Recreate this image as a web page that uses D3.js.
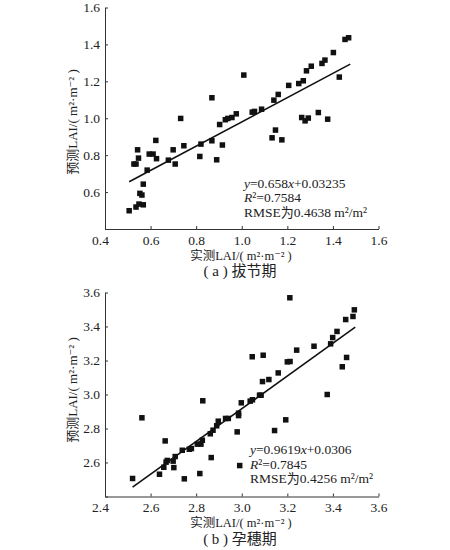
<!DOCTYPE html>
<html><head><meta charset="utf-8">
<script src="https://cdn.jsdelivr.net/npm/d3@7"></script>
<style>
html,body{margin:0;padding:0;background:#fff;}
svg{display:block;}
text{fill:#222;}
</style></head>
<body>
<svg id="c" width="450" height="550"></svg>
<script>
// ---- data (panel a: 拔节期) ----
const xA = [0.506,0.527,0.536,0.543,0.547,0.536,0.549,0.553,0.562,0.568,0.568,0.585,0.594,0.611,0.623,0.626,
  0.678,0.699,0.708,0.732,0.746,0.816,0.821,0.869,0.869,0.890,0.903,0.915,0.928,0.939,0.957,0.976,1.009,
  1.046,1.056,1.087,1.133,1.141,1.148,1.160,1.176,1.206,1.250,1.270,1.263,1.278,1.284,1.292,1.305,1.336,
  1.352,1.365,1.377,1.402,1.428,1.453,1.469];
const yA = [0.499,0.752,0.752,0.829,0.784,0.519,0.535,0.593,0.584,0.643,0.531,0.719,0.806,0.806,0.880,0.781,
  0.773,0.829,0.752,0.999,0.851,0.793,0.860,1.111,0.878,0.775,0.966,0.855,0.992,0.999,1.004,1.024,1.234,
  1.033,1.037,1.049,0.894,1.098,0.936,1.129,0.883,1.178,1.188,1.203,1.004,0.986,1.257,1.001,1.282,1.031,
  1.297,1.315,0.995,1.356,1.223,1.427,1.436];
const fitA = [[0.506,0.656],[1.476,1.293]];
const ticksA = [0.4,0.6,0.8,1.0,1.2,1.4,1.6];
const eqA = ["0.658", "0.03235", "0.7584", "0.4638"];

// ---- data (panel b: 孕穗期) ----
const xB = [2.521,2.562,2.639,2.658,2.664,2.668,2.673,2.699,2.702,2.708,2.739,2.748,2.770,2.779,2.805,2.816,
  2.821,2.827,2.829,2.862,2.866,2.874,2.890,2.897,2.929,2.941,2.980,2.986,2.986,2.991,2.998,3.037,3.047,
  3.046,3.078,3.085,3.091,3.094,3.119,3.144,3.160,3.193,3.200,3.212,3.211,3.241,3.317,3.375,3.390,3.399,
  3.418,3.441,3.456,3.460,3.488,3.494];
const yB = [2.506,2.863,2.531,2.572,2.727,2.602,2.612,2.608,2.570,2.635,2.672,2.504,2.678,2.682,2.708,2.535,
  2.708,2.731,2.963,2.769,2.629,2.790,2.816,2.843,2.859,2.859,2.780,2.876,2.890,2.582,2.951,2.961,2.969,
  3.222,2.996,2.996,3.076,3.231,3.088,2.788,3.127,2.851,3.192,3.194,3.569,3.261,3.284,3.000,3.298,3.335,
  3.371,3.163,3.441,3.218,3.459,3.498];
const fitB = [[2.521,2.455],[3.498,3.396]];
const ticksB = [2.4,2.6,2.8,3.0,3.2,3.4,3.6];
const eqB = ["0.9619", "0.0306", "0.7845", "0.4256"];

const svg = d3.select("#c");
const SERIF = "'Liberation Serif','DejaVu Serif','Noto Sans CJK SC',serif";

function panel(cfg){
  const x = d3.scaleLinear().domain(cfg.dom).range([105,378.5]);
  const y = d3.scaleLinear().domain(cfg.dom).range(cfg.yr);
  const g = svg.append("g");
  const fmt = d3.format(".1f");
  const ax = g.append("g").attr("transform",`translate(0,${cfg.yr[0]})`)
    .call(d3.axisBottom(x).tickValues(cfg.ticks).tickFormat(fmt).tickSizeInner(-3).tickSizeOuter(0).tickPadding(6));
  const ay = g.append("g").attr("transform","translate(105,0)")
    .call(d3.axisLeft(y).tickValues(cfg.ticks).tickFormat(fmt).tickSizeInner(-3).tickSizeOuter(0).tickPadding(5));
  [ax,ay].forEach(a=>{
    a.select(".domain").attr("stroke","#333").attr("stroke-width",1);
    a.selectAll(".tick line").attr("stroke","#333");
    a.selectAll("text").attr("font-family",SERIF).attr("font-size",13.5).attr("fill","#222");
  });
  ax.selectAll(".tick text").filter((d,i)=>i===0).attr("dx",-5);
  ay.selectAll(".tick text").filter((d,i)=>i===0).remove();

  // points
  const s = 5.5;
  g.selectAll("rect.pt").data(cfg.xs.map((v,i)=>[v,cfg.ys[i]])).enter().append("rect")
    .attr("class","pt").attr("x",d=>x(d[0])-s/2).attr("y",d=>y(d[1])-s/2)
    .attr("width",s).attr("height",s).attr("fill","#111");
  // fit line
  g.append("line").attr("x1",x(cfg.fit[0][0])).attr("y1",y(cfg.fit[0][1]))
    .attr("x2",x(cfg.fit[1][0])).attr("y2",y(cfg.fit[1][1]))
    .attr("stroke","#111").attr("stroke-width",1.6);

  // equation text
  const t = g.append("g").attr("font-family",SERIF).attr("font-size",13.5);
  const e1 = t.append("text").attr("x",cfg.eqX).attr("y",cfg.eqY);
  e1.append("tspan").attr("font-style","italic").text("y");
  e1.append("tspan").text("="+cfg.eq[0]);
  e1.append("tspan").attr("font-style","italic").text("x");
  e1.append("tspan").text("+"+cfg.eq[1]);
  const e2 = t.append("text").attr("x",cfg.eqX).attr("y",cfg.eqY+14.5);
  e2.append("tspan").attr("font-style","italic").text("R");
  e2.append("tspan").text("²="+cfg.eq[2]);
  const e3 = t.append("text").attr("x",cfg.eqX).attr("y",cfg.eqY+29);
  e3.append("tspan").text("RMSE");
  e3.append("tspan").attr("font-size",13).text("为");
  e3.append("tspan").text(cfg.eq[3]+" m²/m²");

  // axis titles
  g.append("text").attr("x",241).attr("y",cfg.yr[0]+30.5)
    .attr("text-anchor","middle").attr("font-family",SERIF).attr("font-size",12.5)
    .text("实测LAI/( m²·m⁻² )");
  g.append("text").attr("transform",`translate(77,${cfg.ytY}) rotate(-90)`)
    .attr("text-anchor","middle").attr("font-family",SERIF).attr("font-size",13)
    .text("预测LAI/( m²·m⁻² )");
  // caption
  g.append("text").attr("x",240).attr("y",cfg.yr[0]+47).attr("text-anchor","middle")
    .attr("font-family",SERIF).attr("font-size",15).text(cfg.cap);
}

panel({dom:[0.4,1.6], yr:[229,7.5], xs:xA, ys:yA, fit:fitA, ticks:ticksA, eq:eqA,
  eqX:244, eqY:187.5, ytY:122, cap:"( a ) 拔节期"});
panel({dom:[2.4,3.6], yr:[496.5,292.5], xs:xB, ys:yB, fit:fitB, ticks:ticksB, eq:eqB,
  eqX:250, eqY:454, ytY:390, cap:"( b ) 孕穗期"});
</script>
</body></html>
